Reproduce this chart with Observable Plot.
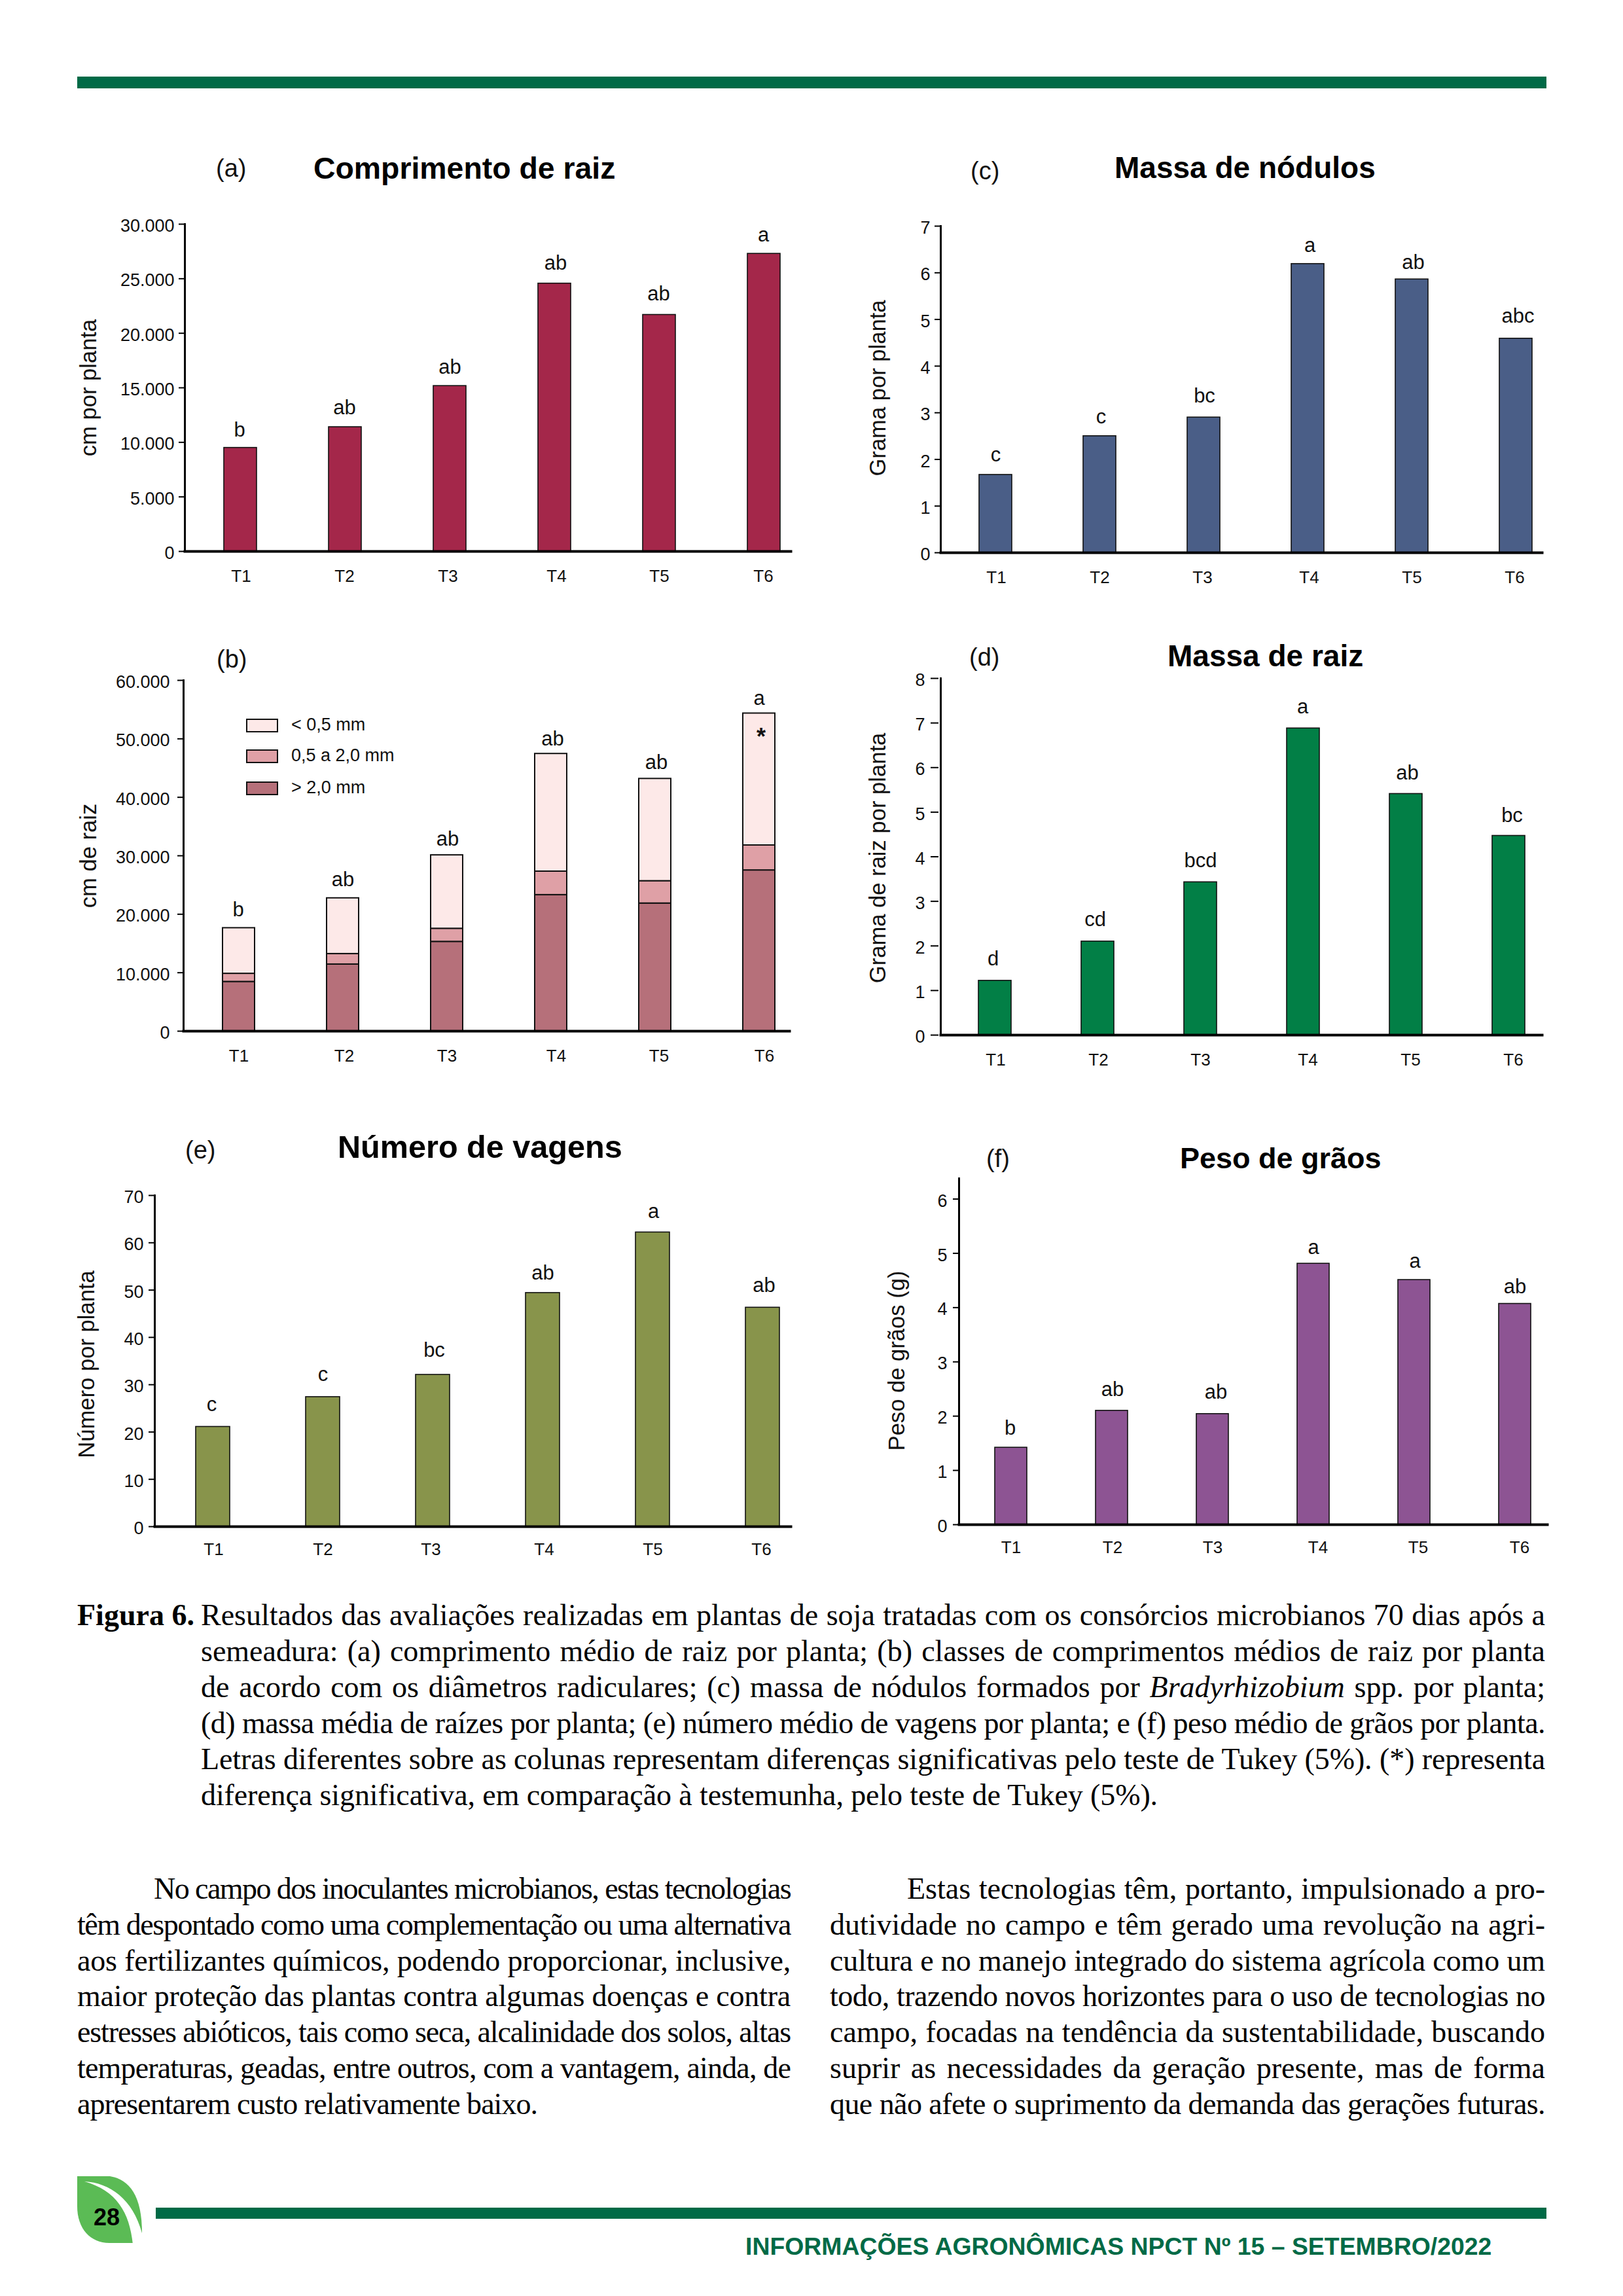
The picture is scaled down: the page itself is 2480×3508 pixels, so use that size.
<!DOCTYPE html>
<html lang="pt">
<head>
<meta charset="utf-8">
<script src="https://cdn.jsdelivr.net/npm/d3@7"></script>
<script src="https://cdn.jsdelivr.net/npm/@observablehq/plot@0.6"></script>
<style>
html,body{margin:0;padding:0;background:#fff;}
#page{position:relative;width:2480px;height:3508px;overflow:hidden;background:#fff;}
.abs{position:absolute;white-space:nowrap;}
.panelTitle{font:bold 46px "Liberation Sans",sans-serif;color:#000;line-height:1;transform:translateY(-50%);}
.panelTag{font:38px "Liberation Sans",sans-serif;color:#111;line-height:1;transform:translateY(-50%);}
.serif{font:46px/55px "Liberation Serif",serif;color:#000;}
.plotWrap{position:absolute;}
.plotWrap svg{display:block;background:transparent;overflow:visible;}
.legTxt{font:27px "Liberation Sans",sans-serif;color:#111;line-height:1;transform:translateY(-50%);}
.sw{position:absolute;box-sizing:border-box;border:2px solid #111;width:49px;height:21px;}
</style>
</head>
<body>
<div id="page"></div>
<script>
const treatments = ["T1","T2","T3","T4","T5","T6"];

// (a) Comprimento de raiz
const rootLength = [9500,11400,15170,24560,21690,27290];
const rootLengthLetters = ["b","ab","ab","ab","ab","a"];
// (b) classes de comprimento de raiz
const rootThick = [8450,11430,15300,23300,21860,27520];
const rootMedium = [1390,1790,2240,4020,3820,4270];
const rootFine = [7800,9530,12560,20120,17490,22560];
const rootClassLetters = ["b","ab","ab","ab","ab","a"];
const rootClasses = ["> 2,0 mm","0,5 a 2,0 mm","< 0,5 mm"];
const rootClassColors = ["#B6707A","#DFA0A6","#FDE9E8"];
// (c) Massa de nódulos
const noduleMass = [1.67,2.50,2.90,6.19,5.86,4.59];
const noduleLetters = ["c","c","bc","a","ab","abc"];
// (d) Massa de raiz
const rootMass = [1.22,2.10,3.43,6.88,5.41,4.47];
const rootMassLetters = ["d","cd","bcd","a","ab","bc"];
// (e) Número de vagens
const podCount = [21.1,27.4,32.1,49.4,62.2,46.3];
const podLetters = ["c","c","bc","ab","a","ab"];
// (f) Peso de grãos
const grainWeight = [1.42,2.10,2.04,4.81,4.51,4.07];
const grainLetters = ["b","ab","ab","a","a","ab"];

const captionLead = "Figura 6.";
const captionLines = [
 "Resultados das avaliações realizadas em plantas de soja tratadas com os consórcios microbianos 70 dias após a",
 "semeadura: (a) comprimento médio de raiz por planta; (b) classes de comprimentos médios de raiz por planta",
 "de acordo com os diâmetros radiculares; (c) massa de nódulos formados por <i>Bradyrhizobium</i> spp. por planta;",
 "(d) massa média de raízes por planta; (e) número médio de vagens por planta; e (f) peso médio de grãos por planta.",
 "Letras diferentes sobre as colunas representam diferenças significativas pelo teste de Tukey (5%). (*) representa",
 "diferença significativa, em comparação à testemunha, pelo teste de Tukey (5%)."
];
const bodyLeft = [
 "No campo dos inoculantes microbianos, estas tecnologias",
 "têm despontado como uma complementação ou uma alternativa",
 "aos fertilizantes químicos, podendo proporcionar, inclusive,",
 "maior proteção das plantas contra algumas doenças e contra",
 "estresses abióticos, tais como seca, alcalinidade dos solos, altas",
 "temperaturas, geadas, entre outros, com a vantagem, ainda, de",
 "apresentarem custo relativamente baixo."
];
const bodyRight = [
 "Estas tecnologias têm, portanto, impulsionado a pro-",
 "dutividade no campo e têm gerado uma revolução na agri-",
 "cultura e no manejo integrado do sistema agrícola como um",
 "todo, trazendo novos horizontes para o uso de tecnologias no",
 "campo, focadas na tendência da sustentabilidade, buscando",
 "suprir as necessidades da geração presente, mas de forma",
 "que não afete o suprimento da demanda das gerações futuras."
];
const footerText = "INFORMAÇÕES AGRONÔMICAS NPCT Nº 15 – SETEMBRO/2022";
const pageNumber = "28";

const page = document.getElementById("page");
function el(cls, html, style){
  const d=document.createElement("div"); d.className=cls; d.innerHTML=html;
  Object.assign(d.style,style); page.appendChild(d); return d;
}
function box(l,t,w,h,c){ el("abs","",{left:l+"px",top:t+"px",width:w+"px",height:h+"px",background:c}); }

const dark="#006A46";
box(118,117,2245,18,dark);
box(238,3373,2125,17,dark);

// panel builder
const thousands = d => d3.format(",")(d).replace(/,/g,".");
function panel(o){
  const svgLeft=o.axisX-190, svgTop=o.top-20, bottomSpace=70;
  const width=o.right-svgLeft+6, height=o.base-svgTop+bottomSpace;
  const frameW=o.right-o.axisX;
  const step=(o.lastBarR-o.firstBarL-o.barW)/5;
  const outer=frameW-(5*step+o.barW);
  const marks=[];
  if(o.stack){
    marks.push(Plot.barY(o.stack,{x:"t",y:"v",fill:"c",order:rootClasses,stroke:"#111",strokeWidth:2}));
  } else {
    marks.push(Plot.barY(o.values,{x:(d,i)=>treatments[i],y:d=>d,fill:o.color,stroke:"#111",strokeWidth:1.6}));
  }
  marks.push(Plot.frame({anchor:"left",stroke:"#000",strokeWidth:3}));
  marks.push(Plot.frame({anchor:"bottom",stroke:"#000",strokeWidth:4}));
  const tickSize=o.tickSize||9, tickDx=o.tickDx||0;
  marks.push(Plot.axisY({ticks:o.ticks,tickSize,fill:"none",label:null,stroke:"#000",strokeWidth:2,dx:tickDx}));
  marks.push(Plot.axisY({ticks:o.ticks,tickFormat:o.fmt,tickSize:0,tickPadding:tickSize+o.tickPad,fontSize:27,
      label:null,fill:"#111",dx:tickDx,dy:3}));
  treatments.forEach((t,i)=>{
    marks.push(Plot.axisX({ticks:[t],tickSize:0,tickPadding:o.xPad||28,fontSize:26,label:null,fill:"#111",lineAnchor:"top",dx:o.xDx[i]}));
    marks.push(Plot.text([o.letters[i]],{x:[t],y:[o.tops[i]],text:d=>d,dx:o.letDx[i],dy:-o.letDy[i],
      fontSize:31,fill:"#111",lineAnchor:"middle"}));
  });
  marks.push(Plot.text([o.yLabel],{text:d=>d,frameAnchor:"left",rotate:-90,dx:-(o.axisX-o.yLabelX),dy:o.yLabelDy||0,
      fontSize:34.6,fill:"#111",textAnchor:"middle",lineAnchor:"middle"}));
  if(o.extra) marks.push(...o.extra);
  const p=Plot.plot({
    width,height,marginLeft:190,marginRight:width-190-frameW,marginTop:20,marginBottom:bottomSpace,
    style:{fontFamily:'"Liberation Sans",sans-serif',background:"transparent",overflow:"visible"},
    x:{domain:treatments,type:"band",paddingInner:1-o.barW/step,paddingOuter:(outer/2)/step,
       align:(o.firstBarL-o.axisX)/outer,axis:null},
    y:{domain:[0,o.ymax],axis:null},
    color:o.stack?{domain:rootClasses,range:rootClassColors}:undefined,
    marks
  });
  const w=document.createElement("div"); w.className="plotWrap";
  w.style.left=svgLeft+"px"; w.style.top=svgTop+"px";
  w.appendChild(p); page.appendChild(w);
}
function titles(tag,tx,ty,title,Tx,Ty,size){
  el("abs panelTag",tag,{left:tx+"px",top:ty+"px"});
  if(title){const t=el("abs panelTitle",title,{left:Tx+"px",top:Ty+"px"}); if(size) t.style.fontSize=size+"px";}
}

titles("(a)",330,257,"Comprimento de raiz",479,257,46.4);
panel({values:rootLength,tops:rootLength,letters:rootLengthLetters,color:"#A4274A",
  axisX:282,top:342,base:842,right:1208,firstBarL:339,lastBarR:1193,barW:50,tickPad:7,
  xDx:[1,-1,-3,3,0,-1],letDx:[-1.5,-1,0,1.4,-1,-1],letDy:[27,29,29,31,32,29],
  ymax:30000,ticks:[0,5000,10000,15000,20000,25000,30000],fmt:thousands,yLabel:"cm por planta",yLabelX:135});

const rootTotals = treatments.map((t,i)=>rootThick[i]+rootMedium[i]+rootFine[i]);
const stackRows = treatments.flatMap((t,i)=>[
  {t,c:rootClasses[0],v:rootThick[i]},
  {t,c:rootClasses[1],v:rootMedium[i]},
  {t,c:rootClasses[2],v:rootFine[i]}]);
titles("(b)",331,1007,"",0,0);
panel({stack:stackRows,tops:rootTotals,letters:rootClassLetters,
  axisX:280,top:1039,base:1575,right:1206,firstBarL:340,lastBarR:1184,barW:49,tickPad:12,
  xDx:[0,2,0,8,6,8],letDx:[-1,0,1,2.5,2,0],letDy:[28,28,25,23,25,23],
  ymax:60000,ticks:[0,10000,20000,30000,40000,50000,60000],fmt:thousands,yLabel:"cm de raiz",yLabelX:135,yLabelDy:0,
  extra:[Plot.text(["*"],{x:["T6"],y:[50300],text:d=>d,dx:3,fontSize:36,fontWeight:"bold",fill:"#111",lineAnchor:"middle"})]});
// legend (b)
[[rootClasses[2],1098,rootClassColors[2]],[rootClasses[1],1145,rootClassColors[1]],[rootClasses[0],1194,rootClassColors[0]]]
 .forEach(([label,y,c])=>{
   el("sw","",{left:"376px",top:y+"px",background:c});
   el("abs legTxt",label,{left:"445px",top:(y+9)+"px"});
 });

titles("(c)",1483,261,"Massa de nódulos",1703,256);
panel({values:noduleMass,tops:noduleMass,letters:noduleLetters,color:"#4A5E87",
  axisX:1437,top:345,base:844,right:2356,firstBarL:1494,lastBarR:2341,barW:50,tickPad:7,
  xDx:[1,0,-2,2,0,-2],letDx:[0,2,1,3,2,3],letDy:[30,29,33,28,26,34],
  ymax:7,ticks:[0,1,2,3,4,5,6,7],fmt:d3.format("d"),yLabel:"Grama por planta",yLabelX:1341,yLabelDy:-2});

titles("(d)",1481,1004,"Massa de raiz",1784,1002);
panel({values:rootMass,tops:rootMass,letters:rootMassLetters,color:"#027F46",
  axisX:1437,top:1036,base:1581,right:2356,firstBarL:1493,lastBarR:2331,barW:50,tickPad:9,
  xDx:[1,1,0,7,7,7],letDx:[-3,-4,0,-1,2,5],letDy:[33,33,33,33,32,31],
  ymax:8,ticks:[0,1,2,3,4,5,6,7,8],fmt:d3.format("d"),yLabel:"Grama de raiz por planta",yLabelX:1341,yLabelDy:2,
  tickDx:-3,tickSize:12});

titles("(e)",283,1757,"Número de vagens",516,1752,48.6);
panel({values:podCount,tops:podCount,letters:podLetters,color:"#88944B",
  axisX:236,top:1826,base:2332,right:1208,firstBarL:296,lastBarR:1192,barW:52,tickPad:8,
  xDx:[1,0,-3,2,0,-2],letDx:[-2,0,2,0,1,2],letDy:[34,34,37,30,32,34],
  ymax:70,ticks:[0,10,20,30,40,50,60,70],fmt:d3.format("d"),yLabel:"Número por planta",yLabelX:132,yLabelDy:5,xPad:25});

titles("(f)",1507,1770,"Peso de grãos",1803,1769,45);
panel({values:grainWeight,tops:grainWeight,letters:grainLetters,color:"#8D5493",
  axisX:1465,top:1800,base:2329,right:2364,firstBarL:1519,lastBarR:2339,barW:49,tickPad:9,
  xDx:[0,1,0,7,6,7],letDx:[-1.5,1,5,0,1,0],letDy:[30,32,33,25,28,26],
  ymax:6.38,ticks:[0,1,2,3,4,5,6],fmt:d3.format("d"),yLabel:"Peso de grãos (g)",yLabelX:1370,yLabelDy:14,xPad:25,tickSize:9});

// running text
function textLine(html,left,right,y,justify){
  const d=el("abs serif",html,{left:left+"px",top:y+"px"});
  if(justify){
    const target=right-left, w=d.getBoundingClientRect().width, gaps=(d.textContent.match(/ /g)||[]).length;
    if(w<target && gaps) d.style.wordSpacing=((target-w)/gaps)+"px";
    else if(w>target) d.style.letterSpacing=((target-w)/d.textContent.length)+"px";
  }
  return d;
}
el("abs serif","<b>"+captionLead+"</b>",{left:"118px",top:"2440px"});
captionLines.forEach((l,i)=>textLine(l,307,i===5?1769:2361,2440+i*55,true));
bodyLeft.forEach((l,i)=>textLine(l,i===0?235:118,i===6?821:1208,2858+i*54.8,true));
bodyRight.forEach((l,i)=>textLine(l,i===0?1386:1268,2361,2858+i*54.8,true));

// footer
el("abs","<svg width='100' height='104' viewBox='0 0 100 104' xmlns='http://www.w3.org/2000/svg'><path d='M0 0H50C80 5 99 30 99 87L85 102H49C20 102 0 80 0 46Z' fill='#5BBB55'/><path d='M11 8C50 10 85 35 99 87L100 104H85C80 55 60 22 11 8Z' fill='#fff'/></svg>",{left:"118px",top:"3325px"});
el("abs","<b>"+pageNumber+"</b>",{left:"143px",top:"3368px",font:"bold 36px/40px 'Liberation Sans',sans-serif",color:"#000"});
el("abs","<b>"+footerText+"</b>",{left:"1139px",top:"3412px",font:"bold 37.4px/40px 'Liberation Sans',sans-serif",color:dark});
</script>
</body>
</html>
